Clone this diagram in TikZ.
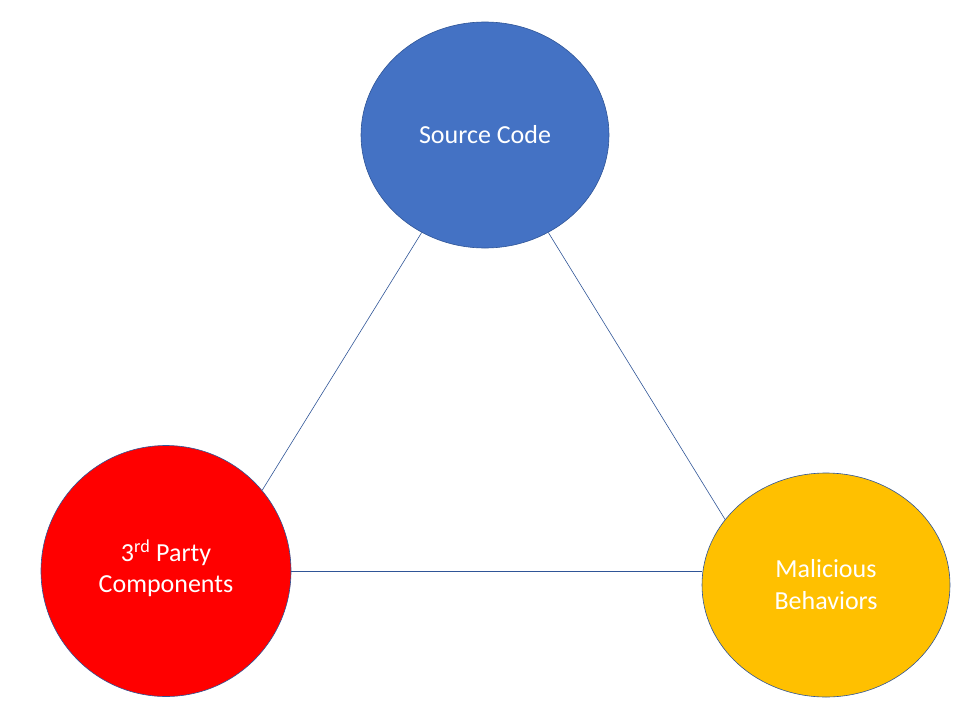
\documentclass[tikz,border=0pt]{standalone}
\usepackage{fontspec}
\setmainfont{Carlito}
\usetikzlibrary{shapes.geometric}
\definecolor{sblue}{HTML}{4472C4}
\definecolor{sred}{HTML}{FF0000}
\definecolor{sgold}{HTML}{FFC000}
\definecolor{sline}{HTML}{2F5597}
\begin{document}
\begin{tikzpicture}[x=1pt,y=-1pt,
  blob/.style={ellipse,draw=sline,line width=0.6pt,inner sep=0pt,text=white,align=center,font=\fontsize{26}{32}\selectfont},
  link/.style={draw=sline,line width=0.6pt}]
\useasboundingbox (0,0) rectangle (966,707);
\node[blob,fill=sblue,minimum width=248pt,minimum height=226pt] (src) at (485,135) {Source Code};
\node[blob,fill=sred,minimum width=250pt,minimum height=251pt] (third) at (166,571) {\raisebox{-16pt}{\begin{tabular}{@{}c@{}}3\textsuperscript{rd} Party\\[-1pt]Components\end{tabular}}};
\node[blob,fill=sgold,minimum width=248pt,minimum height=224pt] (mal) at (826,585) {Malicious\\Behaviors};
\draw[link] (src.237) -- (third.40);
\draw[link] (src.303) -- (mal.147);
\draw[link] (third.east) -- (third.east -| mal.west);
\end{tikzpicture}
\end{document}
